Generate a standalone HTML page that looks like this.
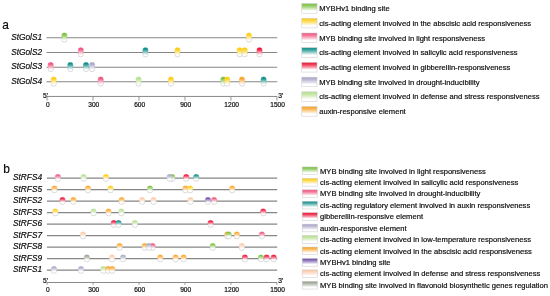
<!DOCTYPE html><html><head><meta charset="utf-8"><title>figure</title><style>html,body{margin:0;padding:0;background:#fff}svg{display:block}text{font-family:"Liberation Sans",Arial,sans-serif;fill:#0a0a0a;stroke:#0a0a0a;stroke-width:0.18px}</style></head><body>
<svg width="550" height="296" viewBox="0 0 550 296">
<defs>
<linearGradient id="ggreen" x1="0" y1="0" x2="0" y2="1"><stop offset="0" stop-color="#7cc142"/><stop offset="0.15" stop-color="#7cc142"/><stop offset="0.8" stop-color="#fff"/><stop offset="1" stop-color="#fff"/></linearGradient>
<linearGradient id="hgreen" x1="0" y1="0" x2="0" y2="1"><stop offset="0" stop-color="#7cc142"/><stop offset="0.1" stop-color="#7cc142" stop-opacity="0.95"/><stop offset="0.72" stop-color="#fff"/><stop offset="1" stop-color="#fff"/></linearGradient>
<linearGradient id="sgreen" x1="0" y1="0" x2="0" y2="1"><stop offset="0" stop-color="#7cc142"/><stop offset="0.3" stop-color="#7cc142" stop-opacity="0.7"/><stop offset="0.7" stop-color="#cfcfcf"/><stop offset="1" stop-color="#b8b8b8"/></linearGradient>
<linearGradient id="lgreen" x1="0" y1="0" x2="0" y2="1"><stop offset="0" stop-color="#7cc142"/><stop offset="0.2" stop-color="#7cc142" stop-opacity="0.85"/><stop offset="0.75" stop-color="#fff"/><stop offset="1" stop-color="#fff"/></linearGradient>
<linearGradient id="gyellow" x1="0" y1="0" x2="0" y2="1"><stop offset="0" stop-color="#fdcd14"/><stop offset="0.15" stop-color="#fdcd14"/><stop offset="0.8" stop-color="#fff"/><stop offset="1" stop-color="#fff"/></linearGradient>
<linearGradient id="hyellow" x1="0" y1="0" x2="0" y2="1"><stop offset="0" stop-color="#fdcd14"/><stop offset="0.1" stop-color="#fdcd14" stop-opacity="0.95"/><stop offset="0.72" stop-color="#fff"/><stop offset="1" stop-color="#fff"/></linearGradient>
<linearGradient id="syellow" x1="0" y1="0" x2="0" y2="1"><stop offset="0" stop-color="#fdcd14"/><stop offset="0.3" stop-color="#fdcd14" stop-opacity="0.7"/><stop offset="0.7" stop-color="#cfcfcf"/><stop offset="1" stop-color="#b8b8b8"/></linearGradient>
<linearGradient id="lyellow" x1="0" y1="0" x2="0" y2="1"><stop offset="0" stop-color="#fdcd14"/><stop offset="0.2" stop-color="#fdcd14" stop-opacity="0.85"/><stop offset="0.75" stop-color="#fff"/><stop offset="1" stop-color="#fff"/></linearGradient>
<linearGradient id="gpink" x1="0" y1="0" x2="0" y2="1"><stop offset="0" stop-color="#f0567f"/><stop offset="0.15" stop-color="#f0567f"/><stop offset="0.8" stop-color="#fff"/><stop offset="1" stop-color="#fff"/></linearGradient>
<linearGradient id="hpink" x1="0" y1="0" x2="0" y2="1"><stop offset="0" stop-color="#f0567f"/><stop offset="0.1" stop-color="#f0567f" stop-opacity="0.95"/><stop offset="0.72" stop-color="#fff"/><stop offset="1" stop-color="#fff"/></linearGradient>
<linearGradient id="spink" x1="0" y1="0" x2="0" y2="1"><stop offset="0" stop-color="#f0567f"/><stop offset="0.3" stop-color="#f0567f" stop-opacity="0.7"/><stop offset="0.7" stop-color="#cfcfcf"/><stop offset="1" stop-color="#b8b8b8"/></linearGradient>
<linearGradient id="lpink" x1="0" y1="0" x2="0" y2="1"><stop offset="0" stop-color="#f0567f"/><stop offset="0.2" stop-color="#f0567f" stop-opacity="0.85"/><stop offset="0.75" stop-color="#fff"/><stop offset="1" stop-color="#fff"/></linearGradient>
<linearGradient id="gteal" x1="0" y1="0" x2="0" y2="1"><stop offset="0" stop-color="#12908c"/><stop offset="0.15" stop-color="#12908c"/><stop offset="0.8" stop-color="#fff"/><stop offset="1" stop-color="#fff"/></linearGradient>
<linearGradient id="hteal" x1="0" y1="0" x2="0" y2="1"><stop offset="0" stop-color="#12908c"/><stop offset="0.1" stop-color="#12908c" stop-opacity="0.95"/><stop offset="0.72" stop-color="#fff"/><stop offset="1" stop-color="#fff"/></linearGradient>
<linearGradient id="steal" x1="0" y1="0" x2="0" y2="1"><stop offset="0" stop-color="#12908c"/><stop offset="0.3" stop-color="#12908c" stop-opacity="0.7"/><stop offset="0.7" stop-color="#cfcfcf"/><stop offset="1" stop-color="#b8b8b8"/></linearGradient>
<linearGradient id="lteal" x1="0" y1="0" x2="0" y2="1"><stop offset="0" stop-color="#12908c"/><stop offset="0.2" stop-color="#12908c" stop-opacity="0.85"/><stop offset="0.75" stop-color="#fff"/><stop offset="1" stop-color="#fff"/></linearGradient>
<linearGradient id="gred" x1="0" y1="0" x2="0" y2="1"><stop offset="0" stop-color="#ee1438"/><stop offset="0.15" stop-color="#ee1438"/><stop offset="0.8" stop-color="#fff"/><stop offset="1" stop-color="#fff"/></linearGradient>
<linearGradient id="hred" x1="0" y1="0" x2="0" y2="1"><stop offset="0" stop-color="#ee1438"/><stop offset="0.1" stop-color="#ee1438" stop-opacity="0.95"/><stop offset="0.72" stop-color="#fff"/><stop offset="1" stop-color="#fff"/></linearGradient>
<linearGradient id="sred" x1="0" y1="0" x2="0" y2="1"><stop offset="0" stop-color="#ee1438"/><stop offset="0.3" stop-color="#ee1438" stop-opacity="0.7"/><stop offset="0.7" stop-color="#cfcfcf"/><stop offset="1" stop-color="#b8b8b8"/></linearGradient>
<linearGradient id="lred" x1="0" y1="0" x2="0" y2="1"><stop offset="0" stop-color="#ee1438"/><stop offset="0.2" stop-color="#ee1438" stop-opacity="0.85"/><stop offset="0.75" stop-color="#fff"/><stop offset="1" stop-color="#fff"/></linearGradient>
<linearGradient id="glav" x1="0" y1="0" x2="0" y2="1"><stop offset="0" stop-color="#a9a5c9"/><stop offset="0.15" stop-color="#a9a5c9"/><stop offset="0.8" stop-color="#fff"/><stop offset="1" stop-color="#fff"/></linearGradient>
<linearGradient id="hlav" x1="0" y1="0" x2="0" y2="1"><stop offset="0" stop-color="#a9a5c9"/><stop offset="0.1" stop-color="#a9a5c9" stop-opacity="0.95"/><stop offset="0.72" stop-color="#fff"/><stop offset="1" stop-color="#fff"/></linearGradient>
<linearGradient id="slav" x1="0" y1="0" x2="0" y2="1"><stop offset="0" stop-color="#a9a5c9"/><stop offset="0.3" stop-color="#a9a5c9" stop-opacity="0.7"/><stop offset="0.7" stop-color="#cfcfcf"/><stop offset="1" stop-color="#b8b8b8"/></linearGradient>
<linearGradient id="llav" x1="0" y1="0" x2="0" y2="1"><stop offset="0" stop-color="#a9a5c9"/><stop offset="0.2" stop-color="#a9a5c9" stop-opacity="0.85"/><stop offset="0.75" stop-color="#fff"/><stop offset="1" stop-color="#fff"/></linearGradient>
<linearGradient id="glgreen" x1="0" y1="0" x2="0" y2="1"><stop offset="0" stop-color="#b7e08e"/><stop offset="0.15" stop-color="#b7e08e"/><stop offset="0.8" stop-color="#fff"/><stop offset="1" stop-color="#fff"/></linearGradient>
<linearGradient id="hlgreen" x1="0" y1="0" x2="0" y2="1"><stop offset="0" stop-color="#b7e08e"/><stop offset="0.1" stop-color="#b7e08e" stop-opacity="0.95"/><stop offset="0.72" stop-color="#fff"/><stop offset="1" stop-color="#fff"/></linearGradient>
<linearGradient id="slgreen" x1="0" y1="0" x2="0" y2="1"><stop offset="0" stop-color="#b7e08e"/><stop offset="0.3" stop-color="#b7e08e" stop-opacity="0.7"/><stop offset="0.7" stop-color="#cfcfcf"/><stop offset="1" stop-color="#b8b8b8"/></linearGradient>
<linearGradient id="llgreen" x1="0" y1="0" x2="0" y2="1"><stop offset="0" stop-color="#b7e08e"/><stop offset="0.2" stop-color="#b7e08e" stop-opacity="0.85"/><stop offset="0.75" stop-color="#fff"/><stop offset="1" stop-color="#fff"/></linearGradient>
<linearGradient id="gorange" x1="0" y1="0" x2="0" y2="1"><stop offset="0" stop-color="#f9a52b"/><stop offset="0.15" stop-color="#f9a52b"/><stop offset="0.8" stop-color="#fff"/><stop offset="1" stop-color="#fff"/></linearGradient>
<linearGradient id="horange" x1="0" y1="0" x2="0" y2="1"><stop offset="0" stop-color="#f9a52b"/><stop offset="0.1" stop-color="#f9a52b" stop-opacity="0.95"/><stop offset="0.72" stop-color="#fff"/><stop offset="1" stop-color="#fff"/></linearGradient>
<linearGradient id="sorange" x1="0" y1="0" x2="0" y2="1"><stop offset="0" stop-color="#f9a52b"/><stop offset="0.3" stop-color="#f9a52b" stop-opacity="0.7"/><stop offset="0.7" stop-color="#cfcfcf"/><stop offset="1" stop-color="#b8b8b8"/></linearGradient>
<linearGradient id="lorange" x1="0" y1="0" x2="0" y2="1"><stop offset="0" stop-color="#f9a52b"/><stop offset="0.2" stop-color="#f9a52b" stop-opacity="0.85"/><stop offset="0.75" stop-color="#fff"/><stop offset="1" stop-color="#fff"/></linearGradient>
<linearGradient id="glorange" x1="0" y1="0" x2="0" y2="1"><stop offset="0" stop-color="#fbbd7e"/><stop offset="0.15" stop-color="#fbbd7e"/><stop offset="0.8" stop-color="#fff"/><stop offset="1" stop-color="#fff"/></linearGradient>
<linearGradient id="hlorange" x1="0" y1="0" x2="0" y2="1"><stop offset="0" stop-color="#fbbd7e"/><stop offset="0.1" stop-color="#fbbd7e" stop-opacity="0.95"/><stop offset="0.72" stop-color="#fff"/><stop offset="1" stop-color="#fff"/></linearGradient>
<linearGradient id="slorange" x1="0" y1="0" x2="0" y2="1"><stop offset="0" stop-color="#fbbd7e"/><stop offset="0.3" stop-color="#fbbd7e" stop-opacity="0.7"/><stop offset="0.7" stop-color="#cfcfcf"/><stop offset="1" stop-color="#b8b8b8"/></linearGradient>
<linearGradient id="llorange" x1="0" y1="0" x2="0" y2="1"><stop offset="0" stop-color="#fbbd7e"/><stop offset="0.2" stop-color="#fbbd7e" stop-opacity="0.85"/><stop offset="0.75" stop-color="#fff"/><stop offset="1" stop-color="#fff"/></linearGradient>
<linearGradient id="gpurple" x1="0" y1="0" x2="0" y2="1"><stop offset="0" stop-color="#6e4fa8"/><stop offset="0.15" stop-color="#6e4fa8"/><stop offset="0.8" stop-color="#fff"/><stop offset="1" stop-color="#fff"/></linearGradient>
<linearGradient id="hpurple" x1="0" y1="0" x2="0" y2="1"><stop offset="0" stop-color="#6e4fa8"/><stop offset="0.1" stop-color="#6e4fa8" stop-opacity="0.95"/><stop offset="0.72" stop-color="#fff"/><stop offset="1" stop-color="#fff"/></linearGradient>
<linearGradient id="spurple" x1="0" y1="0" x2="0" y2="1"><stop offset="0" stop-color="#6e4fa8"/><stop offset="0.3" stop-color="#6e4fa8" stop-opacity="0.7"/><stop offset="0.7" stop-color="#cfcfcf"/><stop offset="1" stop-color="#b8b8b8"/></linearGradient>
<linearGradient id="lpurple" x1="0" y1="0" x2="0" y2="1"><stop offset="0" stop-color="#6e4fa8"/><stop offset="0.2" stop-color="#6e4fa8" stop-opacity="0.85"/><stop offset="0.75" stop-color="#fff"/><stop offset="1" stop-color="#fff"/></linearGradient>
<linearGradient id="gpeach" x1="0" y1="0" x2="0" y2="1"><stop offset="0" stop-color="#fcc9a8"/><stop offset="0.15" stop-color="#fcc9a8"/><stop offset="0.8" stop-color="#fff"/><stop offset="1" stop-color="#fff"/></linearGradient>
<linearGradient id="hpeach" x1="0" y1="0" x2="0" y2="1"><stop offset="0" stop-color="#fcc9a8"/><stop offset="0.1" stop-color="#fcc9a8" stop-opacity="0.95"/><stop offset="0.72" stop-color="#fff"/><stop offset="1" stop-color="#fff"/></linearGradient>
<linearGradient id="speach" x1="0" y1="0" x2="0" y2="1"><stop offset="0" stop-color="#fcc9a8"/><stop offset="0.3" stop-color="#fcc9a8" stop-opacity="0.7"/><stop offset="0.7" stop-color="#cfcfcf"/><stop offset="1" stop-color="#b8b8b8"/></linearGradient>
<linearGradient id="lpeach" x1="0" y1="0" x2="0" y2="1"><stop offset="0" stop-color="#fcc9a8"/><stop offset="0.2" stop-color="#fcc9a8" stop-opacity="0.85"/><stop offset="0.75" stop-color="#fff"/><stop offset="1" stop-color="#fff"/></linearGradient>
<linearGradient id="ggray" x1="0" y1="0" x2="0" y2="1"><stop offset="0" stop-color="#96a18d"/><stop offset="0.15" stop-color="#96a18d"/><stop offset="0.8" stop-color="#fff"/><stop offset="1" stop-color="#fff"/></linearGradient>
<linearGradient id="hgray" x1="0" y1="0" x2="0" y2="1"><stop offset="0" stop-color="#96a18d"/><stop offset="0.1" stop-color="#96a18d" stop-opacity="0.95"/><stop offset="0.72" stop-color="#fff"/><stop offset="1" stop-color="#fff"/></linearGradient>
<linearGradient id="sgray" x1="0" y1="0" x2="0" y2="1"><stop offset="0" stop-color="#96a18d"/><stop offset="0.3" stop-color="#96a18d" stop-opacity="0.7"/><stop offset="0.7" stop-color="#cfcfcf"/><stop offset="1" stop-color="#b8b8b8"/></linearGradient>
<linearGradient id="lgray" x1="0" y1="0" x2="0" y2="1"><stop offset="0" stop-color="#96a18d"/><stop offset="0.2" stop-color="#96a18d" stop-opacity="0.85"/><stop offset="0.75" stop-color="#fff"/><stop offset="1" stop-color="#fff"/></linearGradient>
</defs>
<rect width="550" height="296" fill="#fff"/>
<text x="2.3" y="29" font-size="11.9" stroke-width="0.3">a</text>
<text x="42.1" y="39.80" font-size="8.3" font-style="italic" text-anchor="end">StGolS1</text>
<line x1="46.5" y1="37.80" x2="277.2" y2="37.80" stroke="#868686" stroke-width="1.05"/>
<rect x="61.85" y="33.00" width="5.1" height="9.1" rx="2.2" ry="2.2" fill="url(#ggreen)" stroke="url(#sgreen)" stroke-width="0.55"/>
<rect x="246.45" y="33.00" width="5.1" height="9.1" rx="2.2" ry="2.2" fill="url(#gyellow)" stroke="url(#syellow)" stroke-width="0.55"/>
<text x="42.1" y="54.50" font-size="8.3" font-style="italic" text-anchor="end">StGolS2</text>
<line x1="46.5" y1="52.50" x2="277.2" y2="52.50" stroke="#868686" stroke-width="1.05"/>
<rect x="78.25" y="47.70" width="5.1" height="9.1" rx="2.2" ry="2.2" fill="url(#gpink)" stroke="url(#spink)" stroke-width="0.55"/>
<rect x="142.85" y="47.70" width="5.1" height="9.1" rx="2.2" ry="2.2" fill="url(#gteal)" stroke="url(#steal)" stroke-width="0.55"/>
<rect x="174.95" y="47.70" width="5.1" height="9.1" rx="2.2" ry="2.2" fill="url(#gyellow)" stroke="url(#syellow)" stroke-width="0.55"/>
<rect x="237.05" y="47.70" width="5.1" height="9.1" rx="2.2" ry="2.2" fill="url(#gyellow)" stroke="url(#syellow)" stroke-width="0.55"/>
<rect x="242.15" y="47.70" width="5.1" height="9.1" rx="2.2" ry="2.2" fill="url(#gyellow)" stroke="url(#syellow)" stroke-width="0.55"/>
<rect x="256.95" y="47.70" width="5.1" height="9.1" rx="2.2" ry="2.2" fill="url(#gred)" stroke="url(#sred)" stroke-width="0.55"/>
<text x="42.1" y="69.20" font-size="8.3" font-style="italic" text-anchor="end">StGolS3</text>
<line x1="46.5" y1="67.20" x2="277.2" y2="67.20" stroke="#868686" stroke-width="1.05"/>
<rect x="48.15" y="62.40" width="5.1" height="9.1" rx="2.2" ry="2.2" fill="url(#gpink)" stroke="url(#spink)" stroke-width="0.55"/>
<rect x="67.75" y="62.40" width="5.1" height="9.1" rx="2.2" ry="2.2" fill="url(#gteal)" stroke="url(#steal)" stroke-width="0.55"/>
<rect x="83.45" y="62.40" width="5.1" height="9.1" rx="2.2" ry="2.2" fill="url(#gteal)" stroke="url(#steal)" stroke-width="0.55"/>
<rect x="89.55" y="62.40" width="5.1" height="9.1" rx="2.2" ry="2.2" fill="url(#glav)" stroke="url(#slav)" stroke-width="0.55"/>
<text x="42.1" y="83.80" font-size="8.3" font-style="italic" text-anchor="end">StGolS4</text>
<line x1="46.5" y1="81.80" x2="277.2" y2="81.80" stroke="#868686" stroke-width="1.05"/>
<rect x="51.15" y="77.00" width="5.1" height="9.1" rx="2.2" ry="2.2" fill="url(#gyellow)" stroke="url(#syellow)" stroke-width="0.55"/>
<rect x="98.15" y="77.00" width="5.1" height="9.1" rx="2.2" ry="2.2" fill="url(#gpink)" stroke="url(#spink)" stroke-width="0.55"/>
<rect x="136.05" y="77.00" width="5.1" height="9.1" rx="2.2" ry="2.2" fill="url(#glgreen)" stroke="url(#slgreen)" stroke-width="0.55"/>
<rect x="168.35" y="77.00" width="5.1" height="9.1" rx="2.2" ry="2.2" fill="url(#gyellow)" stroke="url(#syellow)" stroke-width="0.55"/>
<rect x="220.75" y="77.00" width="5.1" height="9.1" rx="2.2" ry="2.2" fill="url(#ggreen)" stroke="url(#sgreen)" stroke-width="0.55"/>
<rect x="224.65" y="77.00" width="5.1" height="9.1" rx="2.2" ry="2.2" fill="url(#gyellow)" stroke="url(#syellow)" stroke-width="0.55"/>
<rect x="239.45" y="77.00" width="5.1" height="9.1" rx="2.2" ry="2.2" fill="url(#gorange)" stroke="url(#sorange)" stroke-width="0.55"/>
<rect x="261.05" y="77.00" width="5.1" height="9.1" rx="2.2" ry="2.2" fill="url(#gteal)" stroke="url(#steal)" stroke-width="0.55"/>
<line x1="46.7" y1="96.45" x2="277.1" y2="96.45" stroke="#7c7c7c" stroke-width="0.9"/>
<line x1="47.10" y1="96.45" x2="47.10" y2="100.65" stroke="#8a8a8a" stroke-width="0.9"/>
<line x1="93.06" y1="96.45" x2="93.06" y2="100.65" stroke="#8a8a8a" stroke-width="0.9"/>
<line x1="139.02" y1="96.45" x2="139.02" y2="100.65" stroke="#8a8a8a" stroke-width="0.9"/>
<line x1="184.98" y1="96.45" x2="184.98" y2="100.65" stroke="#8a8a8a" stroke-width="0.9"/>
<line x1="230.94" y1="96.45" x2="230.94" y2="100.65" stroke="#8a8a8a" stroke-width="0.9"/>
<line x1="276.90" y1="96.45" x2="276.90" y2="100.65" stroke="#8a8a8a" stroke-width="0.9"/>
<text x="47.80" y="106.8" font-size="6.6" text-anchor="middle">0</text>
<text x="93.76" y="106.8" font-size="6.6" text-anchor="middle">300</text>
<text x="139.72" y="106.8" font-size="6.6" text-anchor="middle">600</text>
<text x="185.68" y="106.8" font-size="6.6" text-anchor="middle">900</text>
<text x="231.64" y="106.8" font-size="6.6" text-anchor="middle">1200</text>
<text x="277.60" y="106.8" font-size="6.6" text-anchor="middle">1500</text>
<text x="43.1" y="97.75" font-size="6.7">5'</text>
<text x="278.3" y="97.75" font-size="6.7">3'</text>
<rect x="301.8" y="3.60" width="15.2" height="9.6" fill="url(#lgreen)" stroke="#c8c8c8" stroke-width="0.5"/>
<text x="319.2" y="11.10" font-size="7.6">MYBHv1 binding site</text>
<rect x="301.8" y="18.31" width="15.2" height="9.6" fill="url(#lyellow)" stroke="#c8c8c8" stroke-width="0.5"/>
<text x="319.2" y="25.81" font-size="7.6">cis-acting element involved in the abscisic acid responsiveness</text>
<rect x="301.8" y="33.02" width="15.2" height="9.6" fill="url(#lpink)" stroke="#c8c8c8" stroke-width="0.5"/>
<text x="319.2" y="40.52" font-size="7.6">MYB binding site involved in light responsiveness</text>
<rect x="301.8" y="47.73" width="15.2" height="9.6" fill="url(#lteal)" stroke="#c8c8c8" stroke-width="0.5"/>
<text x="319.2" y="55.23" font-size="7.6">cis-acting element involved in salicylic acid responsiveness</text>
<rect x="301.8" y="62.44" width="15.2" height="9.6" fill="url(#lred)" stroke="#c8c8c8" stroke-width="0.5"/>
<text x="319.2" y="69.94" font-size="7.6">cis-acting element involved in gibberellin-responsiveness</text>
<rect x="301.8" y="77.15" width="15.2" height="9.6" fill="url(#llav)" stroke="#c8c8c8" stroke-width="0.5"/>
<text x="319.2" y="84.65" font-size="7.6">MYB binding site involved in drought-inducibility</text>
<rect x="301.8" y="91.86" width="15.2" height="9.6" fill="url(#llgreen)" stroke="#c8c8c8" stroke-width="0.5"/>
<text x="319.2" y="99.36" font-size="7.6">cis-acting element involved in defense and stress responsiveness</text>
<rect x="301.8" y="106.57" width="15.2" height="9.6" fill="url(#lorange)" stroke="#c8c8c8" stroke-width="0.5"/>
<text x="319.2" y="114.07" font-size="7.6">auxin-responsive element</text>
<text x="3.2" y="173" font-size="11.9" stroke-width="0.3">b</text>
<text x="42.1" y="180.10" font-size="8.3" font-style="italic" text-anchor="end">StRFS4</text>
<line x1="46.9" y1="178.10" x2="277.2" y2="178.10" stroke="#868686" stroke-width="1.05"/>
<rect x="55.25" y="174.45" width="5.3" height="6.8" rx="2.3" ry="2.3" fill="url(#hpink)" stroke="url(#spink)" stroke-width="0.55"/>
<rect x="80.95" y="174.45" width="5.3" height="6.8" rx="2.3" ry="2.3" fill="url(#hlgreen)" stroke="url(#slgreen)" stroke-width="0.55"/>
<rect x="103.25" y="174.45" width="5.3" height="6.8" rx="2.3" ry="2.3" fill="url(#hyellow)" stroke="url(#syellow)" stroke-width="0.55"/>
<rect x="169.55" y="174.45" width="5.3" height="6.8" rx="2.3" ry="2.3" fill="url(#hgreen)" stroke="url(#sgreen)" stroke-width="0.55"/>
<rect x="166.95" y="174.45" width="5.3" height="6.8" rx="2.3" ry="2.3" fill="url(#hlav)" stroke="url(#slav)" stroke-width="0.55"/>
<rect x="183.55" y="174.45" width="5.3" height="6.8" rx="2.3" ry="2.3" fill="url(#hred)" stroke="url(#sred)" stroke-width="0.55"/>
<rect x="193.55" y="174.45" width="5.3" height="6.8" rx="2.3" ry="2.3" fill="url(#hteal)" stroke="url(#steal)" stroke-width="0.55"/>
<text x="42.1" y="191.60" font-size="8.3" font-style="italic" text-anchor="end">StRFS5</text>
<line x1="46.9" y1="189.60" x2="277.2" y2="189.60" stroke="#868686" stroke-width="1.05"/>
<rect x="51.75" y="185.95" width="5.3" height="6.8" rx="2.3" ry="2.3" fill="url(#horange)" stroke="url(#sorange)" stroke-width="0.55"/>
<rect x="85.35" y="185.95" width="5.3" height="6.8" rx="2.3" ry="2.3" fill="url(#horange)" stroke="url(#sorange)" stroke-width="0.55"/>
<rect x="107.85" y="185.95" width="5.3" height="6.8" rx="2.3" ry="2.3" fill="url(#hyellow)" stroke="url(#syellow)" stroke-width="0.55"/>
<rect x="147.35" y="185.95" width="5.3" height="6.8" rx="2.3" ry="2.3" fill="url(#hgreen)" stroke="url(#sgreen)" stroke-width="0.55"/>
<rect x="182.85" y="185.95" width="5.3" height="6.8" rx="2.3" ry="2.3" fill="url(#horange)" stroke="url(#sorange)" stroke-width="0.55"/>
<rect x="187.45" y="185.95" width="5.3" height="6.8" rx="2.3" ry="2.3" fill="url(#hyellow)" stroke="url(#syellow)" stroke-width="0.55"/>
<rect x="229.55" y="185.95" width="5.3" height="6.8" rx="2.3" ry="2.3" fill="url(#horange)" stroke="url(#sorange)" stroke-width="0.55"/>
<text x="42.1" y="203.10" font-size="8.3" font-style="italic" text-anchor="end">StRFS2</text>
<line x1="46.9" y1="201.10" x2="277.2" y2="201.10" stroke="#868686" stroke-width="1.05"/>
<rect x="59.85" y="197.45" width="5.3" height="6.8" rx="2.3" ry="2.3" fill="url(#hred)" stroke="url(#sred)" stroke-width="0.55"/>
<rect x="70.75" y="197.45" width="5.3" height="6.8" rx="2.3" ry="2.3" fill="url(#horange)" stroke="url(#sorange)" stroke-width="0.55"/>
<rect x="118.95" y="197.45" width="5.3" height="6.8" rx="2.3" ry="2.3" fill="url(#horange)" stroke="url(#sorange)" stroke-width="0.55"/>
<rect x="139.45" y="197.45" width="5.3" height="6.8" rx="2.3" ry="2.3" fill="url(#hpeach)" stroke="url(#speach)" stroke-width="0.55"/>
<rect x="150.85" y="197.45" width="5.3" height="6.8" rx="2.3" ry="2.3" fill="url(#hpeach)" stroke="url(#speach)" stroke-width="0.55"/>
<rect x="187.85" y="197.45" width="5.3" height="6.8" rx="2.3" ry="2.3" fill="url(#hpeach)" stroke="url(#speach)" stroke-width="0.55"/>
<rect x="205.35" y="197.45" width="5.3" height="6.8" rx="2.3" ry="2.3" fill="url(#hpurple)" stroke="url(#spurple)" stroke-width="0.55"/>
<rect x="211.45" y="197.45" width="5.3" height="6.8" rx="2.3" ry="2.3" fill="url(#hpink)" stroke="url(#spink)" stroke-width="0.55"/>
<text x="42.1" y="214.60" font-size="8.3" font-style="italic" text-anchor="end">StRFS3</text>
<line x1="46.9" y1="212.60" x2="277.2" y2="212.60" stroke="#868686" stroke-width="1.05"/>
<rect x="52.65" y="208.95" width="5.3" height="6.8" rx="2.3" ry="2.3" fill="url(#hyellow)" stroke="url(#syellow)" stroke-width="0.55"/>
<rect x="90.85" y="208.95" width="5.3" height="6.8" rx="2.3" ry="2.3" fill="url(#hlgreen)" stroke="url(#slgreen)" stroke-width="0.55"/>
<rect x="105.85" y="208.95" width="5.3" height="6.8" rx="2.3" ry="2.3" fill="url(#horange)" stroke="url(#sorange)" stroke-width="0.55"/>
<rect x="118.75" y="208.95" width="5.3" height="6.8" rx="2.3" ry="2.3" fill="url(#hlgreen)" stroke="url(#slgreen)" stroke-width="0.55"/>
<rect x="260.55" y="208.95" width="5.3" height="6.8" rx="2.3" ry="2.3" fill="url(#hred)" stroke="url(#sred)" stroke-width="0.55"/>
<text x="42.1" y="226.10" font-size="8.3" font-style="italic" text-anchor="end">StRFS6</text>
<line x1="46.9" y1="224.10" x2="277.2" y2="224.10" stroke="#868686" stroke-width="1.05"/>
<rect x="111.15" y="220.45" width="5.3" height="6.8" rx="2.3" ry="2.3" fill="url(#hred)" stroke="url(#sred)" stroke-width="0.55"/>
<rect x="115.95" y="220.45" width="5.3" height="6.8" rx="2.3" ry="2.3" fill="url(#hteal)" stroke="url(#steal)" stroke-width="0.55"/>
<rect x="132.25" y="220.45" width="5.3" height="6.8" rx="2.3" ry="2.3" fill="url(#hlgreen)" stroke="url(#slgreen)" stroke-width="0.55"/>
<rect x="207.95" y="220.45" width="5.3" height="6.8" rx="2.3" ry="2.3" fill="url(#hred)" stroke="url(#sred)" stroke-width="0.55"/>
<text x="42.1" y="237.60" font-size="8.3" font-style="italic" text-anchor="end">StRFS7</text>
<line x1="46.9" y1="235.60" x2="277.2" y2="235.60" stroke="#868686" stroke-width="1.05"/>
<rect x="80.35" y="231.95" width="5.3" height="6.8" rx="2.3" ry="2.3" fill="url(#hpeach)" stroke="url(#speach)" stroke-width="0.55"/>
<rect x="224.55" y="231.95" width="5.3" height="6.8" rx="2.3" ry="2.3" fill="url(#horange)" stroke="url(#sorange)" stroke-width="0.55"/>
<rect x="226.15" y="231.95" width="5.3" height="6.8" rx="2.3" ry="2.3" fill="url(#hgreen)" stroke="url(#sgreen)" stroke-width="0.55"/>
<rect x="234.15" y="231.95" width="5.3" height="6.8" rx="2.3" ry="2.3" fill="url(#horange)" stroke="url(#sorange)" stroke-width="0.55"/>
<rect x="259.25" y="231.95" width="5.3" height="6.8" rx="2.3" ry="2.3" fill="url(#hpink)" stroke="url(#spink)" stroke-width="0.55"/>
<text x="42.1" y="249.10" font-size="8.3" font-style="italic" text-anchor="end">StRFS8</text>
<line x1="46.9" y1="247.10" x2="277.2" y2="247.10" stroke="#868686" stroke-width="1.05"/>
<rect x="116.95" y="243.45" width="5.3" height="6.8" rx="2.3" ry="2.3" fill="url(#horange)" stroke="url(#sorange)" stroke-width="0.55"/>
<rect x="142.05" y="243.45" width="5.3" height="6.8" rx="2.3" ry="2.3" fill="url(#horange)" stroke="url(#sorange)" stroke-width="0.55"/>
<rect x="149.95" y="243.45" width="5.3" height="6.8" rx="2.3" ry="2.3" fill="url(#hpink)" stroke="url(#spink)" stroke-width="0.55"/>
<rect x="146.25" y="243.45" width="5.3" height="6.8" rx="2.3" ry="2.3" fill="url(#hlav)" stroke="url(#slav)" stroke-width="0.55"/>
<rect x="210.05" y="243.45" width="5.3" height="6.8" rx="2.3" ry="2.3" fill="url(#hgreen)" stroke="url(#sgreen)" stroke-width="0.55"/>
<rect x="239.15" y="243.45" width="5.3" height="6.8" rx="2.3" ry="2.3" fill="url(#hpeach)" stroke="url(#speach)" stroke-width="0.55"/>
<text x="42.1" y="260.60" font-size="8.3" font-style="italic" text-anchor="end">StRFS9</text>
<line x1="46.9" y1="258.60" x2="277.2" y2="258.60" stroke="#868686" stroke-width="1.05"/>
<rect x="84.25" y="254.95" width="5.3" height="6.8" rx="2.3" ry="2.3" fill="url(#hgray)" stroke="url(#sgray)" stroke-width="0.55"/>
<rect x="109.35" y="254.95" width="5.3" height="6.8" rx="2.3" ry="2.3" fill="url(#hpeach)" stroke="url(#speach)" stroke-width="0.55"/>
<rect x="120.45" y="254.95" width="5.3" height="6.8" rx="2.3" ry="2.3" fill="url(#hlav)" stroke="url(#slav)" stroke-width="0.55"/>
<rect x="157.55" y="254.95" width="5.3" height="6.8" rx="2.3" ry="2.3" fill="url(#horange)" stroke="url(#sorange)" stroke-width="0.55"/>
<rect x="172.95" y="254.95" width="5.3" height="6.8" rx="2.3" ry="2.3" fill="url(#horange)" stroke="url(#sorange)" stroke-width="0.55"/>
<rect x="180.95" y="254.95" width="5.3" height="6.8" rx="2.3" ry="2.3" fill="url(#horange)" stroke="url(#sorange)" stroke-width="0.55"/>
<rect x="242.25" y="254.95" width="5.3" height="6.8" rx="2.3" ry="2.3" fill="url(#hred)" stroke="url(#sred)" stroke-width="0.55"/>
<rect x="258.25" y="254.95" width="5.3" height="6.8" rx="2.3" ry="2.3" fill="url(#hgreen)" stroke="url(#sgreen)" stroke-width="0.55"/>
<rect x="263.95" y="254.95" width="5.3" height="6.8" rx="2.3" ry="2.3" fill="url(#hred)" stroke="url(#sred)" stroke-width="0.55"/>
<rect x="271.05" y="254.95" width="5.3" height="6.8" rx="2.3" ry="2.3" fill="url(#hred)" stroke="url(#sred)" stroke-width="0.55"/>
<text x="42.1" y="272.10" font-size="8.3" font-style="italic" text-anchor="end">StRFS1</text>
<line x1="46.9" y1="270.10" x2="277.2" y2="270.10" stroke="#868686" stroke-width="1.05"/>
<rect x="51.35" y="266.45" width="5.3" height="6.8" rx="2.3" ry="2.3" fill="url(#hlav)" stroke="url(#slav)" stroke-width="0.55"/>
<rect x="78.35" y="266.45" width="5.3" height="6.8" rx="2.3" ry="2.3" fill="url(#hlav)" stroke="url(#slav)" stroke-width="0.55"/>
<rect x="100.65" y="266.45" width="5.3" height="6.8" rx="2.3" ry="2.3" fill="url(#hlgreen)" stroke="url(#slgreen)" stroke-width="0.55"/>
<rect x="105.45" y="266.45" width="5.3" height="6.8" rx="2.3" ry="2.3" fill="url(#horange)" stroke="url(#sorange)" stroke-width="0.55"/>
<rect x="109.55" y="266.45" width="5.3" height="6.8" rx="2.3" ry="2.3" fill="url(#horange)" stroke="url(#sorange)" stroke-width="0.55"/>
<line x1="46.7" y1="282.5" x2="277.1" y2="282.5" stroke="#7c7c7c" stroke-width="0.9"/>
<line x1="47.10" y1="282.5" x2="47.10" y2="284.8" stroke="#8a8a8a" stroke-width="0.9"/>
<line x1="93.06" y1="282.5" x2="93.06" y2="284.8" stroke="#8a8a8a" stroke-width="0.9"/>
<line x1="139.02" y1="282.5" x2="139.02" y2="284.8" stroke="#8a8a8a" stroke-width="0.9"/>
<line x1="184.98" y1="282.5" x2="184.98" y2="284.8" stroke="#8a8a8a" stroke-width="0.9"/>
<line x1="230.94" y1="282.5" x2="230.94" y2="284.8" stroke="#8a8a8a" stroke-width="0.9"/>
<line x1="276.90" y1="282.5" x2="276.90" y2="284.8" stroke="#8a8a8a" stroke-width="0.9"/>
<text x="47.80" y="291.75" font-size="6.6" text-anchor="middle">0</text>
<text x="93.76" y="291.75" font-size="6.6" text-anchor="middle">300</text>
<text x="139.72" y="291.75" font-size="6.6" text-anchor="middle">600</text>
<text x="185.68" y="291.75" font-size="6.6" text-anchor="middle">900</text>
<text x="231.64" y="291.75" font-size="6.6" text-anchor="middle">1200</text>
<text x="277.60" y="291.75" font-size="6.6" text-anchor="middle">1500</text>
<text x="43.1" y="282.5" font-size="6.7">5'</text>
<text x="278.3" y="282.5" font-size="6.7">3'</text>
<rect x="302.2" y="166.95" width="15.2" height="7.7" fill="url(#lgreen)" stroke="#c8c8c8" stroke-width="0.5"/>
<text x="320.0" y="173.50" font-size="7.6">MYB binding site involved in light responsiveness</text>
<rect x="302.2" y="178.39" width="15.2" height="7.7" fill="url(#lyellow)" stroke="#c8c8c8" stroke-width="0.5"/>
<text x="320.0" y="184.94" font-size="7.6">cis-acting element involved in salicylic acid responsiveness</text>
<rect x="302.2" y="189.83" width="15.2" height="7.7" fill="url(#lpink)" stroke="#c8c8c8" stroke-width="0.5"/>
<text x="320.0" y="196.38" font-size="7.6">MYB binding site involved in drought-inducibility</text>
<rect x="302.2" y="201.27" width="15.2" height="7.7" fill="url(#lteal)" stroke="#c8c8c8" stroke-width="0.5"/>
<text x="320.0" y="207.82" font-size="7.6">cis-acting regulatory element involved in auxin responsiveness</text>
<rect x="302.2" y="212.71" width="15.2" height="7.7" fill="url(#lred)" stroke="#c8c8c8" stroke-width="0.5"/>
<text x="320.0" y="219.26" font-size="7.6">gibberellin-responsive element</text>
<rect x="302.2" y="224.15" width="15.2" height="7.7" fill="url(#llav)" stroke="#c8c8c8" stroke-width="0.5"/>
<text x="320.0" y="230.70" font-size="7.6">auxin-responsive element</text>
<rect x="302.2" y="235.59" width="15.2" height="7.7" fill="url(#llgreen)" stroke="#c8c8c8" stroke-width="0.5"/>
<text x="320.0" y="242.14" font-size="7.6">cis-acting element involved in low-temperature responsiveness</text>
<rect x="302.2" y="247.03" width="15.2" height="7.7" fill="url(#lorange)" stroke="#c8c8c8" stroke-width="0.5"/>
<text x="320.0" y="253.58" font-size="7.6">cis-acting element involved in the abscisic acid responsiveness</text>
<rect x="302.2" y="258.47" width="15.2" height="7.7" fill="url(#lpurple)" stroke="#c8c8c8" stroke-width="0.5"/>
<text x="320.0" y="265.02" font-size="7.6">MYBHv1 binding site</text>
<rect x="302.2" y="269.91" width="15.2" height="7.7" fill="url(#lpeach)" stroke="#c8c8c8" stroke-width="0.5"/>
<text x="320.0" y="276.46" font-size="7.6">cis-acting element involved in defense and stress responsiveness</text>
<rect x="302.2" y="281.35" width="15.2" height="7.7" fill="url(#lgray)" stroke="#c8c8c8" stroke-width="0.5"/>
<text x="320.0" y="287.90" font-size="7.6">MYB binding site involved in flavonoid biosynthetic genes regulation</text>
</svg></body></html>
